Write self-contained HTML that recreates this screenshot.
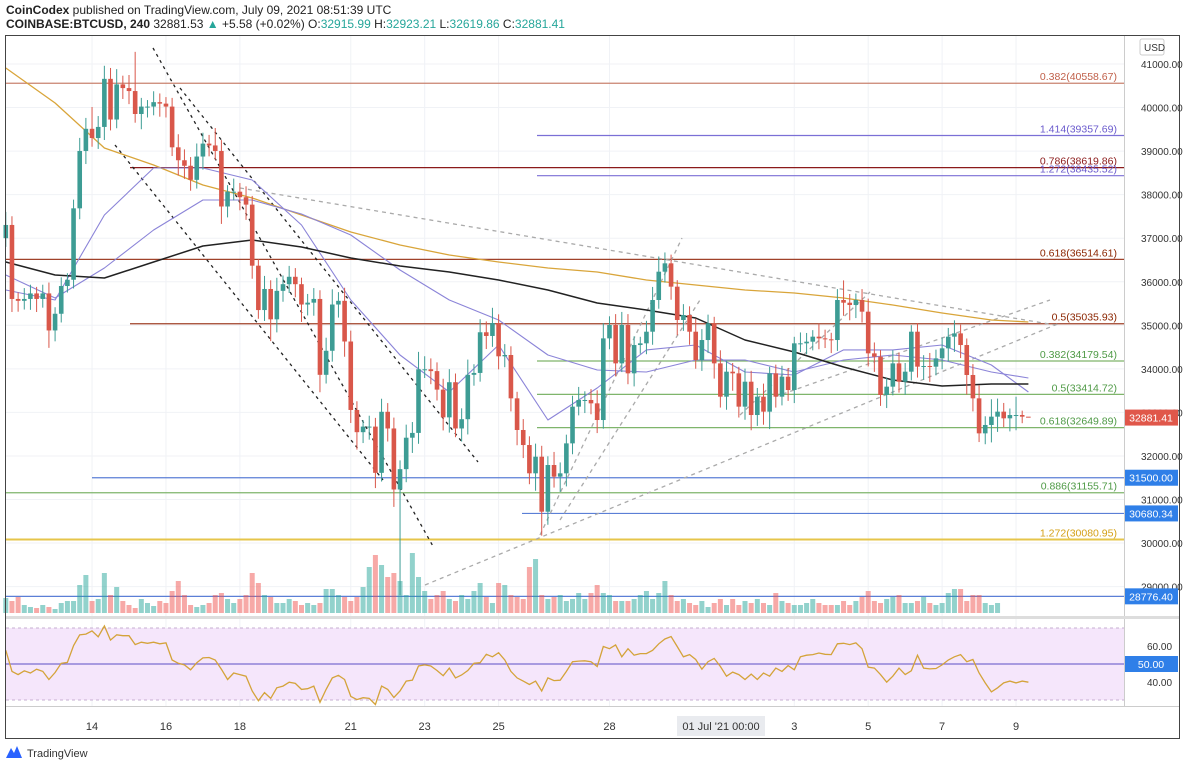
<!DOCTYPE html>
<html><head><meta charset="utf-8"><style>
html,body{margin:0;padding:0;background:#fff;}
svg{display:block;font-family:"Liberation Sans",sans-serif;}
</style></head><body>
<svg id="chart" width="1186" height="768" viewBox="0 0 1186 768" xmlns="http://www.w3.org/2000/svg">
<text x="6" y="14" font-size="12" fill="#222"><tspan font-weight="bold">CoinCodex</tspan> published on TradingView.com, July 09, 2021 08:51:39 UTC</text>
<text x="6" y="28" font-size="12" fill="#222"><tspan font-weight="bold">COINBASE:BTCUSD, 240</tspan> 32881.53 <tspan fill="#26a69a">▲</tspan> +5.58 (+0.02%) O:<tspan fill="#26a69a">32915.99</tspan> H:<tspan fill="#26a69a">32923.21</tspan> L:<tspan fill="#26a69a">32619.86</tspan> C:<tspan fill="#26a69a">32881.41</tspan></text>
<g id="grid"></g><g id="hlines"></g><g id="vol"></g><g id="trend"></g><g id="ma"></g><g id="candles"></g><g id="rsi"></g><g id="axes"></g>
<rect x="5.5" y="35.5" width="1174" height="703" fill="none" stroke="#444" stroke-width="1"/>
<line x1="1124.5" y1="36" x2="1124.5" y2="706" stroke="#ccc"/>
<line x1="6" y1="617.5" x2="1179" y2="617.5" stroke="#ddd" stroke-width="3"/>
<line x1="6" y1="706.5" x2="1179" y2="706.5" stroke="#ccc"/>
<g><path d="M6 758 L11 748 L14 753 L17 746 L22 758 Z" fill="#2962ff"/><text x="27" y="757" font-size="11" fill="#333">TradingView</text></g>
</svg>
<script>
const closes=[37304,35605,35562,35605,35732,35605,35732,34882,35265,35902,36046,37686,39003,39512,
39300,39555,40659,39725,40532,40447,40379,39852,40022,40022,40124,40090,40022,39087,38790,38663,38340,38875,39172,39130,39003,37728,38068,38068,37941,37771,36369,35350,35834,35137,35791,35944,36114,35944,35477,35520,35605,33863,34415,35477,35562,34628,33056,32546,32674,32674,31612,33014,32631,31230,31697,32419,32529,33990,33990,33948,33523,32886,33693,32631,32844,33863,33906,34840,34755,35052,34288,
34318,33323,32596,32251,31601,31983,30720,31792,31524,31601,32289,33132,33285,33285,33208,32825,34700,35007,34126,35007,33897,34547,34586,34853,35581,36231,36423,35887,35122,35236,34853,34203,34662,35045,34126,33361,33935,33897,33132,33705,32940,33361,33017,33897,33361,33820,33514,34586,34586,34624,34739,34700,34678,34662,35581,35519,35466,35581,35313,34356,34280,33400,33591,34126,33705,33935,34853,34050,34065,34050,34241,34471,34739,34815,34547,33859,33323,32519,32711,32902,33017,32864,32940,32940,32902,32881];
const wickHi=[300,200,150,250,200,150,200,250,150,200,150,200,300,250,
500,250,300,250,350,200,300,900,200,150,250,200,150,200,300,250,200,300,250,200,400,250,150,300,200,250,200,150,300,200,300,200,250,200,150,200,250,200,300,350,200,300,250,200,150,250,200,300,200,250,200,300,250,400,300,250,200,250,300,200,250,350,200,300,250,350,200,
250,200,150,250,200,300,250,200,300,250,200,250,300,200,250,300,350,200,250,300,250,200,150,250,300,350,250,200,150,250,200,300,250,200,150,300,250,200,150,300,250,200,300,150,200,250,200,150,250,200,150,300,200,150,250,450,200,150,250,300,250,150,200,300,250,200,150,200,250,300,200,250,200,300,200,150,250,300,200,400,300,200,150,420,100];
const wickLo=[200,300,250,200,250,300,200,400,250,200,150,200,250,300,
200,250,300,250,200,250,300,200,350,250,200,300,250,200,350,300,250,200,300,250,200,400,250,200,300,350,300,200,250,500,300,250,200,300,400,250,300,400,200,250,300,350,300,400,250,300,350,200,300,400,2430,300,350,250,200,300,250,300,350,200,300,350,250,200,300,250,300,
250,300,350,300,250,400,550,300,250,350,300,250,200,300,250,300,200,250,300,200,250,300,200,250,300,200,250,300,350,250,300,200,250,300,350,250,300,400,250,300,350,250,300,400,250,200,250,300,200,250,200,250,200,300,250,300,350,300,250,300,350,250,300,200,250,300,200,250,300,350,200,250,300,350,300,450,300,200,250,400,350,200,300,350,150];
const volume=[15,12,16,8,6,5,8,6,4,10,12,12,28,38,
12,14,40,18,26,12,8,5,14,10,7,12,10,22,32,18,8,6,8,10,18,20,14,10,14,18,40,30,18,16,10,10,14,12,8,10,8,10,24,24,18,16,12,16,26,46,58,48,36,40,32,18,60,36,22,14,18,22,14,12,18,14,22,30,16,10,30,
28,18,16,14,46,54,18,14,16,18,12,14,20,14,20,28,20,18,12,12,12,14,18,22,14,20,32,18,12,14,10,8,12,6,10,14,8,14,8,12,10,14,10,8,20,12,10,8,8,10,14,10,8,8,8,12,8,12,16,22,12,10,14,16,18,10,10,12,16,10,8,10,20,24,24,12,18,18,10,8,10];
const rsiValues=[57.6,45.9,44.1,46.2,45.0,47.1,45.9,41.4,45.3,50.4,50.9,60.3,66.2,66.6,68.4,65.1,71.1,63.3,66.2,65.7,65.7,60.8,62.1,61.5,62.1,61.2,61.7,52.2,50.4,49.5,46.8,50.7,53.4,53.6,52.2,47.1,41.4,45.0,44.1,43.2,35.0,29.6,34.1,30.9,36.8,37.7,39.9,39.2,35.9,36.3,37.7,28.7,35.9,42.3,43.7,41.4,32.0,30.2,31.3,30.9,27.5,37.7,35.9,31.4,35.0,40.5,41.0,48.9,49.5,48.9,46.4,43.5,47.7,42.3,43.9,46.4,50.4,50.7,55.4,54.0,56.3,52.2,45.9,42.3,40.5,38.6,40.5,35.0,42.3,40.8,41.0,45.9,51.3,51.6,51.8,51.3,48.6,59.7,58.5,60.6,54.0,58.5,54.9,55.8,55.8,57.6,61.2,63.9,65.3,59.7,54.0,55.2,52.5,47.1,51.3,53.1,48.6,43.2,45.5,44.1,41.4,44.4,41.4,45.0,43.2,47.7,45.9,49.1,46.8,54.0,54.9,55.2,56.1,55.4,55.2,61.2,61.5,60.8,61.7,58.5,48.2,47.7,44.1,39.9,43.2,47.7,44.1,46.2,54.9,47.7,47.3,47.5,49.5,52.2,54.0,55.2,51.3,52.5,45.0,39.5,34.5,36.8,39.5,40.5,39.5,40.5,39.9];
// moving averages sampled every 8 candles (candle index 0,8,16,...,last)
const maGold=[40908,40105,39071,38681,38222,37923,37533,37143,36844,36615,36454,36316,36224,36041,35926,35811,35742,35627,35467,35283,35122,35076];
const maBlack=[36454,36155,36087,36454,36821,36959,36798,36546,36362,36224,36041,35811,35513,35352,35168,34663,34388,34043,33745,33607,33653,33653];
const maFast=[35811,35582,37533,38612,38612,38337,37303,35582,34319,33469,34548,32826,33561,34434,34548,33928,33859,34434,34434,34548,34089,33469];
const maSlow=[36155,35627,36316,37189,37877,37877,37556,37074,36270,35582,35122,34319,33974,33928,34204,34204,33928,34204,34319,34204,33928,33790];
const fibPrices=[40558.67,39357.69,38619.86,38435.52,36514.61,35035.93,34179.54,33414.72,32649.89,31155.71,30080.95];
const fibLabels=["0.382(40558.67)","1.414(39357.69)","0.786(38619.86)","1.272(38435.52)","0.618(36514.61)","0.5(35035.93)","0.382(34179.54)","0.5(33414.72)","0.618(32649.89)","0.886(31155.71)","1.272(30080.95)"];
const levelPrices=[31500,30680.34,28776.40];
const priceTicks=[41000,40000,39000,38000,37000,36000,35000,34000,33000,32000,31000,30000,29000];
const rsiTicks=[60,40];
const dayLabels=["14","16","18","21","23","25","28","3","5","7","9"];
const dayIndex=[14,26,38,56,68,80,98,128,140,152,164];

const NS="http://www.w3.org/2000/svg";
const X0=5.8, DX=6.16;
const xOf=i=>X0+i*DX;
const yOf=p=>64+(41000-p)*0.04355;
const yR=v=>664-(v-50)*1.8;
function mk(tag,attrs,parent,text){const e=document.createElementNS(NS,tag);for(const k in attrs)e.setAttribute(k,attrs[k]);if(text!==undefined)e.textContent=text;document.getElementById(parent).appendChild(e);return e;}

// grid
priceTicks.forEach(p=>{const e=mk('line',{x1:6,x2:1124,y1:yOf(p),y2:yOf(p),stroke:'#f0f2f6'},'grid');

});
dayIndex.forEach(i=>{const e=mk('line',{x1:xOf(i),x2:xOf(i),y1:36,y2:706,stroke:'#f0f2f6'},'grid');

});

// fib lines
const fibColors=['#c9826f','#7b6fd6','#8b1a1a','#7b6fd6','#a0422a','#a0422a','#7fb56b','#7fb56b','#7fb56b','#7fb56b','#e6c54a'];
const fibTxt=['#c0604a','#6a5acd','#8b1a1a','#6a5acd','#8b2500','#8b2500','#4f9a46','#4f9a46','#4f9a46','#4f9a46','#d4a017'];
const fibStart=[6,537,130,537,6,130,537,537,537,6,6];
fibPrices.forEach((p,i)=>{const y=yOf(p);
const l=mk('line',{x1:fibStart[i],x2:1124,y1:y,y2:y,stroke:fibColors[i],'stroke-width':i==10?2:1.2},'hlines');


const t=mk('text',{x:1117,y:y-3,'text-anchor':'end','font-size':10.5,fill:fibTxt[i]},'hlines',fibLabels[i]);

});
const lvStart=[92,522,6];
levelPrices.forEach((p,i)=>{const y=yOf(p);
const l=mk('line',{x1:lvStart[i],x2:1124,y1:y,y2:y,stroke:'#5b7fd6','stroke-width':1.2},'hlines');

});

// volume
closes.forEach((c,i)=>{const o=i?closes[i-1]:37000;const v=volume[i]||0;
const r=mk('rect',{x:xOf(i)-2.5,y:613-v,width:5,height:v,fill:c>=o?'rgba(38,166,154,0.5)':'rgba(239,83,80,0.5)'},'vol');

});

// trendlines
const trends=[[153,48,434,548,'#222','3,4'],[115,145,383,480,'#222','3,4'],[180,88,478,462,'#222','3,4'],
[240,188,1055,325,'#aaa','4,4'],[425,585,1060,323,'#aaa','4,4'],[540,535,682,238,'#aaa','4,4'],[560,520,700,300,'#aaa','4,4'],[740,415,870,292,'#aaa','4,4'],[760,402,1050,300,'#aaa','4,4']];
trends.forEach(t=>{const e=mk('line',{x1:t[0],y1:t[1],x2:t[2],y2:t[3],stroke:t[4],'stroke-width':1.3,'stroke-dasharray':t[5]},'trend');

});

// moving averages
function maPath(arr,color,w,name){let d='';arr.forEach((p,j)=>{const i=Math.min(j*8,closes.length-1);d+=(j?'L':'M')+xOf(i).toFixed(1)+' '+yOf(p).toFixed(1);});
const e=mk('path',{d:d,fill:'none',stroke:color,'stroke-width':w,'stroke-linejoin':'round'},'ma');

}
maPath(maGold,'#d9a53a',1.3,'ma-gold');
maPath(maSlow,'#8b84d8',1.1,'ma-slow-purple');
maPath(maFast,'#8b84d8',1.1,'ma-fast-purple');
maPath(maBlack,'#222',1.5,'ma-black');

// candles
closes.forEach((c,i)=>{const o=i?closes[i-1]:37000;const up=c>=o;const col=up?'#3d9c94':'#d9574a';
const hi=Math.max(o,c)+wickHi[i],lo=Math.min(o,c)-wickLo[i];const x=xOf(i);
const w=mk('line',{x1:x,x2:x,y1:yOf(hi),y2:yOf(lo),stroke:col,'stroke-width':1},'candles');


const yt=yOf(Math.max(o,c)),yb=yOf(Math.min(o,c));
const b=mk('rect',{x:x-2.3,y:yt,width:4.6,height:Math.max(1,yb-yt),fill:col},'candles');

});

// rsi pane
let e=mk('rect',{x:6,y:yR(70),width:1118,height:yR(30)-yR(70),fill:'#f5e6fb'},'rsi');


[70,30].forEach(v=>{const l=mk('line',{x1:6,x2:1124,y1:yR(v),y2:yR(v),stroke:'#c6afd2','stroke-dasharray':'3,3'},'rsi');

});
e=mk('line',{x1:6,x2:1124,y1:yR(50),y2:yR(50),stroke:'#7a6cd0','stroke-width':1.2},'rsi');


let d='';const n=Math.min(rsiValues.length,closes.length);
for(let i=0;i<n;i++)d+=(i?'L':'M')+xOf(i).toFixed(1)+' '+yR(rsiValues[i]).toFixed(1);
e=mk('path',{d:d,fill:'none',stroke:'#d4a33a','stroke-width':1.3},'rsi');



// axes
priceTicks.forEach(p=>{const t=mk('text',{x:1141,y:yOf(p)+4,'font-size':10,fill:'#333'},'axes',p.toFixed(2));

});
e=mk('rect',{x:1140,y:39,width:24,height:16,rx:2,fill:'#fff',stroke:'#ccc'},'axes');


mk('text',{x:1144,y:51,'font-size':10,fill:'#333'},'axes','USD');
rsiTicks.forEach(v=>{const t=mk('text',{x:1147,y:yR(v)+4,'font-size':10,fill:'#333'},'axes',v.toFixed(2));

});
function tag(y,txt,bg,name){const r=mk('rect',{x:1124,y:y-8,width:54,height:16,fill:bg},'axes');


mk('text',{x:1151,y:y+4,'text-anchor':'middle','font-size':10.5,fill:'#fff'},'axes',txt);}
tag(yOf(closes[closes.length-1]),'32881.41','#e0574a','last-price-tag');
levelPrices.forEach(p=>tag(yOf(p),p.toFixed(2),'#2f7fe8','level-price-tag'));
tag(yR(50),'50.00','#2f7fe8','rsi-mid-tag');
dayLabels.forEach((s,j)=>{const t=mk('text',{x:xOf(dayIndex[j]),y:730,'text-anchor':'middle','font-size':11,fill:'#333'},'axes',s);

});
e=mk('rect',{x:677,y:716,width:88,height:20,fill:'#e9ebef'},'axes');


mk('text',{x:721,y:730,'text-anchor':'middle','font-size':11,fill:'#333'},'axes',"01 Jul '21  00:00");
</script>
</body></html>
